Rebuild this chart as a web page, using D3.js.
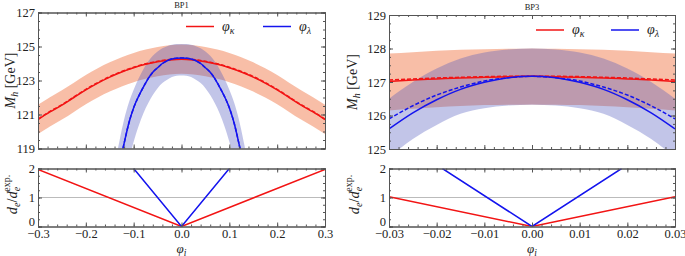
<!DOCTYPE html>
<html>
<head>
<meta charset="utf-8">
<script src="https://cdn.jsdelivr.net/npm/d3@7"></script>
<style>
  body { margin: 0; background: #fff; }
  svg { display: block; }
  text { font-family: "Liberation Serif", serif; fill: #222; }
</style>
</head>
<body>
<script>
// ---- BP1 (left) : Higgs mass vs phase ----
const bp1Phi = [-0.3, -0.275, -0.25, -0.225, -0.2, -0.175, -0.15, -0.125, -0.1, -0.075, -0.05, -0.025, 0,
  0.025, 0.05, 0.075, 0.1, 0.125, 0.15, 0.175, 0.2, 0.225, 0.25, 0.275, 0.3];
const bp1KappaMh = [120.7, 121.15, 121.55, 122.0, 122.45, 122.85, 123.2, 123.5, 123.75, 123.95, 124.1, 124.2, 124.25,
  124.2, 124.1, 123.95, 123.75, 123.5, 123.2, 122.85, 122.45, 122.0, 121.55, 121.15, 120.7];
const bp1KappaMhDash = [120.73, 121.18, 121.58, 122.03, 122.48, 122.88, 123.23, 123.53, 123.78, 123.98, 124.13, 124.23, 124.28,
  124.23, 124.13, 123.98, 123.78, 123.53, 123.23, 122.88, 122.48, 122.03, 121.58, 121.18, 120.73];
const bp1KappaHi = [121.57, 122.02, 122.43, 122.87, 123.32, 123.72, 124.07, 124.37, 124.62, 124.82, 124.97, 125.07, 125.12,
  125.07, 124.97, 124.82, 124.62, 124.37, 124.07, 123.72, 123.32, 122.87, 122.43, 122.02, 121.57];
const bp1KappaLo = [119.85, 120.3, 120.7, 121.15, 121.6, 122.0, 122.35, 122.65, 122.9, 123.1, 123.25, 123.35, 123.4,
  123.35, 123.25, 123.1, 122.9, 122.65, 122.35, 122.0, 121.6, 121.15, 120.7, 120.3, 119.85];

const bp1LamPhi = [-0.14, -0.13, -0.12, -0.11, -0.1, -0.09, -0.08, -0.07, -0.06, -0.05, -0.04, -0.03, -0.02, -0.01, 0,
  0.01, 0.02, 0.03, 0.04, 0.05, 0.06, 0.07, 0.08, 0.09, 0.1, 0.11, 0.12, 0.13, 0.14];
const bp1LamMh = [116.6, 118.0, 119.3, 120.5, 121.4, 122.05, 122.6, 123.1, 123.49, 123.75, 124.0, 124.16, 124.26, 124.31, 124.32,
  124.31, 124.26, 124.16, 124.0, 123.75, 123.49, 123.1, 122.6, 122.05, 121.4, 120.5, 119.3, 118.0, 116.6];
const bp1LamHi = [118.0, 119.4, 120.7, 121.7, 122.45, 123.1, 123.65, 124.1, 124.45, 124.7, 124.9, 125.02, 125.1, 125.14, 125.15,
  125.14, 125.1, 125.02, 124.9, 124.7, 124.45, 124.1, 123.65, 123.1, 122.45, 121.7, 120.7, 119.4, 118.0];
const bp1LamLo = [114.0, 115.6, 117.0, 118.3, 119.4, 120.3, 121.05, 121.65, 122.15, 122.55, 122.85, 123.05, 123.2, 123.28, 123.3,
  123.28, 123.2, 123.05, 122.85, 122.55, 122.15, 121.65, 121.05, 120.3, 119.4, 118.3, 117.0, 115.6, 114.0];

// ---- BP1 (left) : EDM ratio ----
const bp1EdmKappaPhi = [-0.3, 0, 0.3];
const bp1EdmKappa = [1.97, 0, 1.97];
const bp1EdmLamPhi = [-0.1, 0, 0.1];
const bp1EdmLam = [2, 0, 2];

// ---- BP3 (right) : Higgs mass vs phase ----
const bp3Phi = [-0.03, -0.025, -0.02, -0.015, -0.01, -0.005, 0, 0.005, 0.01, 0.015, 0.02, 0.025, 0.03];
const bp3KappaMh = [127.02, 127.06, 127.09, 127.12, 127.14, 127.16, 127.17, 127.16, 127.14, 127.12, 127.09, 127.06, 127.02];
const bp3KappaMhDash = [127.06, 127.09, 127.12, 127.14, 127.16, 127.17, 127.17, 127.17, 127.16, 127.14, 127.12, 127.09, 127.06];
const bp3KappaHi = [127.85, 127.89, 127.93, 127.96, 127.98, 127.99, 128.0, 127.99, 127.98, 127.96, 127.93, 127.89, 127.85];
const bp3KappaLo = [126.15, 126.2, 126.25, 126.28, 126.31, 126.32, 126.33, 126.32, 126.31, 126.28, 126.25, 126.2, 126.15];
const bp3LamMh = [125.6, 126.08, 126.47, 126.78, 126.99, 127.13, 127.17, 127.13, 126.99, 126.78, 126.47, 126.08, 125.6];
const bp3LamMhDash = [125.9, 126.29, 126.61, 126.85, 127.03, 127.13, 127.17, 127.13, 127.03, 126.85, 126.61, 126.29, 125.9];
const bp3LamHi = [126.5, 127.0, 127.4, 127.7, 127.88, 127.97, 128.0, 127.97, 127.88, 127.7, 127.4, 127.0, 126.5];
const bp3LamLo = [124.75, 125.3, 125.72, 126.05, 126.22, 126.3, 126.32, 126.3, 126.22, 126.05, 125.72, 125.3, 124.75];

// ---- BP3 (right) : EDM ratio ----
const bp3EdmKappaPhi = [-0.03, 0, 0.03];
const bp3EdmKappa = [1.03, 0, 1.03];
const bp3EdmLamPhi = [-0.0188, 0, 0.0188];
const bp3EdmLam = [2, 0, 2];

// tick labels
const bp1XTicks = [-0.3, -0.2, -0.1, 0, 0.1, 0.2, 0.3];
const bp1YTicks = [119, 121, 123, 125, 127];
const bp3XTicks = [-0.03, -0.02, -0.01, 0, 0.01, 0.02, 0.03];
const bp3YTicks = [125, 126, 127, 128, 129];
const edmYTicks = [0, 1, 2];

const RED = '#f21414';
const BLUE = '#1414ee';
const RED_BAND = 'rgba(240,110,60,0.45)';
const BLUE_BAND = 'rgba(80,90,190,0.35)';
const FRAME = '#555';

const svg = d3.select('body').append('svg')
  .attr('width', 685)
  .attr('height', 256);

const zip = (xs, ys) => xs.map((x, i) => [x, ys[i]]);
const steps = (a, b, s) => d3.range(Math.round((b - a) / s) + 1).map(i => +(a + i * s).toFixed(6));

function frameAxes(g, x, y, opt) {
  const [x0, x1] = x.range();
  const [y0, y1] = y.range();
  const minorX = steps(x.domain()[0], x.domain()[1], opt.xMinor);
  const minorY = steps(y.domain()[0], y.domain()[1], opt.yMinor);

  // minor ticks all four sides
  g.append('g').attr('transform', `translate(0,${y0})`)
    .call(d3.axisBottom(x).tickValues(minorX).tickSize(-2).tickFormat(''));
  g.append('g').attr('transform', `translate(0,${y1})`)
    .call(d3.axisTop(x).tickValues(minorX).tickSize(-2).tickFormat(''));
  g.append('g').attr('transform', `translate(${x0},0)`)
    .call(d3.axisLeft(y).tickValues(minorY).tickSize(-2).tickFormat(''));
  g.append('g').attr('transform', `translate(${x1},0)`)
    .call(d3.axisRight(y).tickValues(minorY).tickSize(-2).tickFormat(''));

  // major ticks
  g.append('g').attr('transform', `translate(0,${y0})`)
    .call(d3.axisBottom(x).tickValues(opt.xTicks).tickSize(-4).tickPadding(3)
      .tickFormat(opt.xLabels ? d3.format(opt.xFmt) : ''));
  g.append('g').attr('transform', `translate(0,${y1})`)
    .call(d3.axisTop(x).tickValues(opt.xTicks).tickSize(-4).tickFormat(''));
  const ly = g.append('g').attr('transform', `translate(${x0},0)`)
    .call(d3.axisLeft(y).tickValues(opt.yTicks).tickSize(-4).tickPadding(3).tickFormat(d3.format('d')));
  g.append('g').attr('transform', `translate(${x1},0)`)
    .call(d3.axisRight(y).tickValues(opt.yTicks).tickSize(-4).tickFormat(''));

  g.selectAll('.domain').attr('stroke', FRAME);
  g.selectAll('.tick line').attr('stroke', FRAME);
  g.selectAll('.tick text')
    .attr('font-family', '"Liberation Serif", serif')
    .attr('font-size', 12.5)
    .attr('fill', '#222');
  // the lowest y label sits a little higher, clear of the x labels
  if (opt.liftFirst) {
    ly.selectAll('.tick text').filter(d => d === opt.yTicks[0]).attr('dy', '-0.1em');
  }
}

let clipId = 0;
function clipFor(g, x, y) {
  const id = 'clip' + (clipId++);
  g.append('clipPath').attr('id', id).append('rect')
    .attr('x', x.range()[0]).attr('y', y.range()[1])
    .attr('width', x.range()[1] - x.range()[0])
    .attr('height', y.range()[0] - y.range()[1]);
  return g.append('g').attr('clip-path', `url(#${id})`);
}

function band(layer, x, y, xs, lo, hi, fill) {
  const area = d3.area().x((d, i) => x(xs[i])).y0((d, i) => y(lo[i])).y1(d => y(d))
    .curve(d3.curveMonotoneX);
  layer.append('path').datum(hi).attr('d', area).attr('fill', fill);
}

function curve(layer, x, y, xs, ys, color, dash, kind) {
  const line = d3.line().x(d => x(d[0])).y(d => y(d[1]))
    .curve(kind || d3.curveMonotoneX);
  layer.append('path').datum(zip(xs, ys)).attr('d', line)
    .attr('fill', 'none').attr('stroke', color).attr('stroke-width', 1.5)
    .attr('stroke-dasharray', dash || null);
}

function drawPanel(p) {
  const g = svg.append('g');
  const x = d3.scaleLinear().domain(p.xDomain).range([p.left, p.right]);
  const yTop = d3.scaleLinear().domain(p.yDomain).range([p.topBottom, p.topTop]);
  const yEdm = d3.scaleLinear().domain([0, 2]).range([p.edmBottom, p.edmTop]);

  // upper plot: bands then lines
  const top = clipFor(g, x, yTop);
  band(top, x, yTop, p.kPhi, p.kLo, p.kHi, RED_BAND);
  band(top, x, yTop, p.lPhi, p.lLo, p.lHi, BLUE_BAND);
  curve(top, x, yTop, p.kPhi, p.kMhDash, RED, '4,2');
  curve(top, x, yTop, p.lPhi, p.lMhDash, BLUE, '4,2');
  curve(top, x, yTop, p.kPhi, p.kMh, RED);
  curve(top, x, yTop, p.lPhi, p.lMh, BLUE);
  frameAxes(g, x, yTop, { xTicks: p.xTicks, xMinor: p.xMinor, yTicks: p.yTicks, yMinor: p.yMinor, xLabels: false });

  // title
  g.append('text').attr('x', (p.left + p.right) / 2).attr('y', p.titleY)
    .attr('text-anchor', 'middle').attr('font-family', '"DejaVu Sans", sans-serif')
    .attr('font-size', 8.5).text(p.title);

  // legend
  const leg = g.append('g');
  p.legend.forEach(l => {
    leg.append('line').attr('x1', l.x).attr('x2', l.x + 28).attr('y1', p.legendY).attr('y2', p.legendY)
      .attr('stroke', l.color).attr('stroke-width', 1.5);
    const t = leg.append('text').attr('x', l.x + 36).attr('y', p.legendY + 4).attr('font-size', 14);
    t.append('tspan').attr('font-style', 'italic').text('φ');
    t.append('tspan').attr('font-style', 'italic').attr('font-size', 10).attr('dy', 3).text(l.sub);
  });

  // y label top
  const yl = g.append('text').attr('transform', `translate(${p.ylabX},${(p.topTop + p.topBottom) / 2}) rotate(-90)`)
    .attr('text-anchor', 'middle').attr('font-size', 14);
  yl.append('tspan').attr('font-style', 'italic').text('M');
  yl.append('tspan').attr('font-style', 'italic').attr('font-size', 10).attr('dy', 3).text('h');
  yl.append('tspan').attr('dy', -3).text(' [GeV]');

  // lower plot: EDM ratio
  const low = clipFor(g, x, yEdm);
  low.append('line').attr('x1', p.left).attr('x2', p.right).attr('y1', yEdm(1)).attr('y2', yEdm(1))
    .attr('stroke', '#bbb').attr('stroke-width', 1);
  curve(low, x, yEdm, p.ekPhi, p.ek, RED, null, d3.curveLinear);
  curve(low, x, yEdm, p.elPhi, p.el, BLUE, null, d3.curveLinear);
  frameAxes(g, x, yEdm, { xTicks: p.xTicks, xMinor: p.xMinor, yTicks: edmYTicks, yMinor: 0.25,
    xLabels: true, xFmt: p.xFmt, liftFirst: true });

  const el = g.append('text').attr('transform', `translate(${p.ylabX + 2},${(p.edmTop + p.edmBottom) / 2 - 3}) rotate(-90)`)
    .attr('text-anchor', 'middle').attr('font-size', 14.5);
  el.append('tspan').attr('font-style', 'italic').text('d');
  el.append('tspan').attr('font-style', 'italic').attr('font-size', 10).attr('dy', 3).text('e');
  el.append('tspan').attr('dy', -3).text('/');
  el.append('tspan').attr('font-style', 'italic').text('d');
  el.append('tspan').attr('font-style', 'italic').attr('font-size', 10).attr('dy', 3).text('e');
  el.append('tspan').attr('font-size', 10).attr('dy', -10).attr('dx', -5).text('exp.');

  const xl = g.append('text').attr('x', (p.left + p.right) / 2).attr('y', 253)
    .attr('text-anchor', 'middle').attr('font-size', 13);
  xl.append('tspan').attr('font-style', 'italic').text('φ');
  xl.append('tspan').attr('font-style', 'italic').attr('font-size', 9.5).attr('dy', 2.5).text('i');
}

drawPanel({
  title: 'BP1', titleY: 8,
  left: 38, right: 325, topTop: 12.5, topBottom: 148.5, edmTop: 168.5, edmBottom: 226.5,
  xDomain: [-0.3, 0.3], yDomain: [119, 127], xTicks: bp1XTicks, yTicks: bp1YTicks,
  xMinor: 0.02, yMinor: 0.5, xFmt: '.1f', ylabX: 15,
  kPhi: bp1Phi, kMh: bp1KappaMh, kMhDash: bp1KappaMhDash, kHi: bp1KappaHi, kLo: bp1KappaLo,
  lPhi: bp1LamPhi, lMh: bp1LamMh, lMhDash: bp1LamMh, lHi: bp1LamHi, lLo: bp1LamLo,
  ekPhi: bp1EdmKappaPhi, ek: bp1EdmKappa, elPhi: bp1EdmLamPhi, el: bp1EdmLam,
  legendY: 26.5, legend: [{ x: 186, color: RED, sub: 'κ' }, { x: 263, color: BLUE, sub: 'λ' }]
});

drawPanel({
  title: 'BP3', titleY: 10,
  left: 389, right: 675, topTop: 15, topBottom: 149, edmTop: 168.5, edmBottom: 226.5,
  xDomain: [-0.03, 0.03], yDomain: [125, 129], xTicks: bp3XTicks, yTicks: bp3YTicks,
  xMinor: 0.002, yMinor: 0.25, xFmt: '.2f', ylabX: 357,
  kPhi: bp3Phi, kMh: bp3KappaMh, kMhDash: bp3KappaMhDash, kHi: bp3KappaHi, kLo: bp3KappaLo,
  lPhi: bp3Phi, lMh: bp3LamMh, lMhDash: bp3LamMhDash, lHi: bp3LamHi, lLo: bp3LamLo,
  ekPhi: bp3EdmKappaPhi, ek: bp3EdmKappa, elPhi: bp3EdmLamPhi, el: bp3EdmLam,
  legendY: 30, legend: [{ x: 536, color: RED, sub: 'κ' }, { x: 611, color: BLUE, sub: 'λ' }]
});
</script>
</body>
</html>
